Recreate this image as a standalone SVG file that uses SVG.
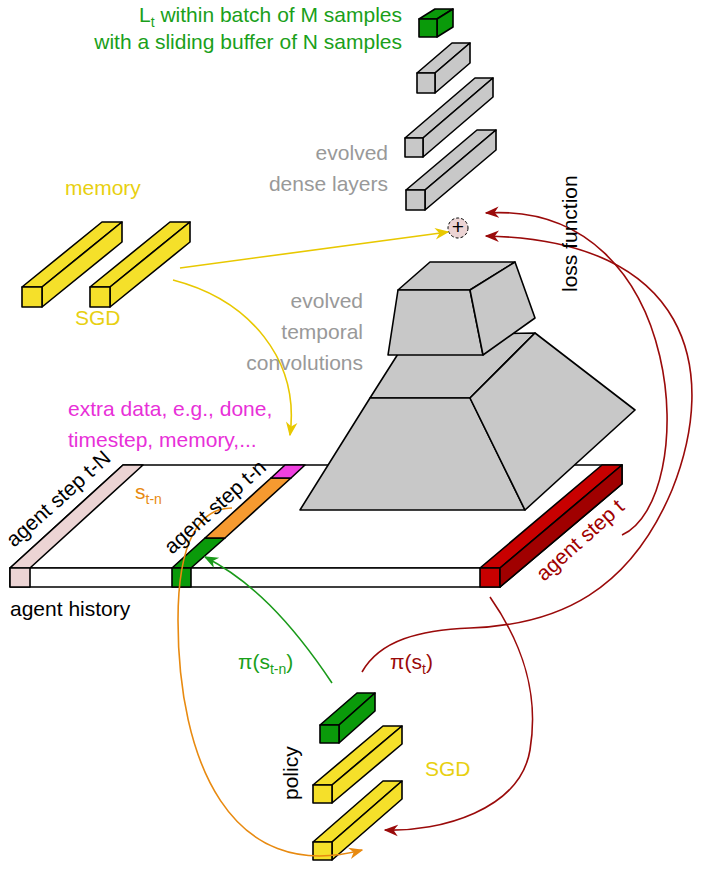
<svg xmlns="http://www.w3.org/2000/svg" width="717" height="888" viewBox="0 0 717 888">
<style>
text{font-family:"Liberation Sans",Arial,sans-serif;font-size:21px}
.k{stroke:#000;stroke-width:1.6;stroke-linejoin:round}
.g{fill:#c8c8c8}.y{fill:#f5e02a}.gr{fill:#0a9a0a}
.c{fill:none;stroke-width:1.6}
</style>
<defs>
<marker id="ay" viewBox="0 0 10 10" refX="9" refY="5" markerWidth="9" markerHeight="9" orient="auto"><path d="M0,1 L10,5 L0,9 L3,5z" fill="#e8c800"/></marker>
<marker id="ar" viewBox="0 0 10 10" refX="9" refY="5" markerWidth="9" markerHeight="9" orient="auto"><path d="M0,1 L10,5 L0,9 L3,5z" fill="#9a0a0a"/></marker>
<marker id="ag" viewBox="0 0 10 10" refX="9" refY="5" markerWidth="9" markerHeight="9" orient="auto"><path d="M0,1 L10,5 L0,9 L3,5z" fill="#1a9a1a"/></marker>
<marker id="ao" viewBox="0 0 10 10" refX="9" refY="5" markerWidth="9" markerHeight="9" orient="auto"><path d="M0,1 L10,5 L0,9 L3,5z" fill="#e88a10"/></marker>
</defs>

<g id="history">
<polygon class="k" fill="#fff" points="10,568 123,465 622,465 500,568"/>
<polygon class="k" fill="#fff" points="10,568 500,568 500,587 10,587"/>
<polygon class="k" fill="#fff" points="500,568 622,465 622,484 500,587"/>
<polygon class="k" fill="#ecd4d4" points="10,568 123,465 143,465 30,568"/>
<rect class="k" fill="#ecd4d4" x="10" y="568" width="20" height="19"/>
<polygon class="k" fill="#0a9a0a" points="172,568 205,538 225,538 191,568"/>
<polygon class="k" fill="#f59a30" points="205,538 271,478 291,478 225,538"/>
<polygon class="k" fill="#f040e0" points="271,478 285,465 305,465 291,478"/>
<rect class="k" fill="#0a9a0a" x="172" y="568" width="19" height="19"/>
<polygon class="k" fill="#c80000" points="480,568 602,465 622,465 500,568"/>
<rect class="k" fill="#c80000" x="480" y="568" width="20" height="19"/>
<polygon class="k" fill="#a00000" points="500,568 622,465 622,484 500,587"/>
</g>

<g id="convolutions">
<polygon class="k g" points="370,398 410,335 535,333 470,398"/>
<polygon class="k g" points="300,510 370,398 470,398 525,510"/>
<polygon class="k g" points="470,398 535,333 635,410 525,510"/>
<polygon class="k g" points="398,290 430,262 515,262 470,290"/>
<polygon class="k g" points="388,355 398,290 470,290 483,355"/>
<polygon class="k g" points="470,290 515,262 535,318 483,355"/>
</g>

<g id="dense">
<polygon class="k gr" points="419,19 435,9 453,9 437,19"/><polygon class="k gr" points="437,19 453,9 453,27 437,37"/><rect class="k gr" x="419" y="19" width="18" height="18"/>
<polygon class="k g" points="417,73 452,43 470,43 435,73"/><polygon class="k g" points="435,73 470,43 470,63 435,93"/><rect class="k g" x="417" y="73" width="18" height="20"/>
<polygon class="k g" points="405,138 475,78 493,78 423,138"/><polygon class="k g" points="423,138 493,78 493,97 423,157"/><rect class="k g" x="405" y="138" width="18" height="19"/>
<polygon class="k g" points="406,190 477,130 496,130 425,190"/><polygon class="k g" points="425,190 496,130 496,150 425,210"/><rect class="k g" x="406" y="190" width="19" height="20"/>
<circle cx="458" cy="228" r="10" fill="#ecd4d4" stroke="#000" stroke-dasharray="3,2"/>
<text x="458" y="234" text-anchor="middle" font-size="17">+</text>
</g>

<g id="memory">
<polygon class="k y" points="22,287 102,222 122,222 42,287"/><polygon class="k y" points="42,287 122,222 122,242 42,307"/><rect class="k y" x="22" y="287" width="20" height="20"/>
<polygon class="k y" points="90,287 170,222 190,222 110,287"/><polygon class="k y" points="110,287 190,222 190,242 110,307"/><rect class="k y" x="90" y="287" width="20" height="20"/>
</g>

<g id="policy">
<polygon class="k gr" points="320,725 357,693 375,693 339,725"/><polygon class="k gr" points="339,725 375,693 375,711 339,743"/><rect class="k gr" x="320" y="725" width="19" height="18"/>
<polygon class="k y" points="313,785 383,726 402,726 332,785"/><polygon class="k y" points="332,785 402,726 402,744 332,803"/><rect class="k y" x="313" y="785" width="19" height="18"/>
<polygon class="k y" points="313,842 383,781 402,781 332,842"/><polygon class="k y" points="332,842 402,781 402,799 332,860"/><rect class="k y" x="313" y="842" width="19" height="18"/>
</g>

<g id="connectors">
<path class="c" stroke="#e8c800" d="M180,268 L448,232" marker-end="url(#ay)"/>
<path class="c" stroke="#e8c800" d="M173,280 C250,300 300,360 290,435" marker-end="url(#ay)"/>
<path class="c" stroke="#9a0a0a" d="M622,535 C700,500 690,200 486,213" marker-end="url(#ar)"/>
<path class="c" stroke="#9a0a0a" d="M362,672 C380,640 420,630 470,628 C560,625 630,590 672,490 C720,370 690,240 486,236" marker-end="url(#ar)"/>
<path class="c" stroke="#9a0a0a" d="M490,597 C520,640 540,690 530,750 C520,810 440,832 385,830" marker-end="url(#ar)"/>
<path class="c" stroke="#1a9a1a" d="M332,683 C290,620 250,580 205,557" marker-end="url(#ag)"/>
<path class="c" stroke="#e88a10" d="M232,508 C200,508 178,540 178,620 C178,760 230,885 362,850" marker-end="url(#ao)"/>
</g>

<g id="labels">
<text x="402" y="22" text-anchor="end" fill="#1aa01a">L<tspan font-size="14" dy="5">t</tspan><tspan dy="-5"> within batch of  M samples</tspan></text>
<text x="402" y="49" text-anchor="end" fill="#1aa01a">with a sliding buffer of N samples</text>
<text x="388" y="160" text-anchor="end" fill="#999">evolved</text>
<text x="388" y="191" text-anchor="end" fill="#999">dense layers</text>
<text x="65" y="195" fill="#e8d010">memory</text>
<text x="75" y="325" fill="#e8d010">SGD</text>
<text x="363" y="308" text-anchor="end" fill="#999">evolved</text>
<text x="363" y="339" text-anchor="end" fill="#999">temporal</text>
<text x="363" y="370" text-anchor="end" fill="#999">convolutions</text>
<text x="68" y="416" fill="#e830d8">extra data, e.g., done,</text>
<text x="68" y="447" fill="#e830d8">timestep, memory,...</text>
<text transform="translate(577,292) rotate(-90)" fill="#000">loss function</text>
<text transform="translate(14,548) rotate(-42)" font-size="17">agent step t-N</text>
<text x="135" y="499" fill="#e88a10">s<tspan font-size="14" dy="5">t-n</tspan></text>
<text transform="translate(172,555) rotate(-42)" font-size="17">agent step t-n</text>
<text transform="translate(544,582) rotate(-42)" font-size="17" fill="#a00000">agent step t</text>
<text x="10" y="616" fill="#000">agent history</text>
<text x="238" y="669" fill="#1aa01a">π(s<tspan font-size="14" dy="5">t-n</tspan><tspan dy="-5">)</tspan></text>
<text x="390" y="669" fill="#9a0a0a">π(s<tspan font-size="14" dy="5">t</tspan><tspan dy="-5">)</tspan></text>
<text x="425" y="776" fill="#e8d010">SGD</text>
<text transform="translate(298,800) rotate(-90)" fill="#000">policy</text>
</g>
</svg>
